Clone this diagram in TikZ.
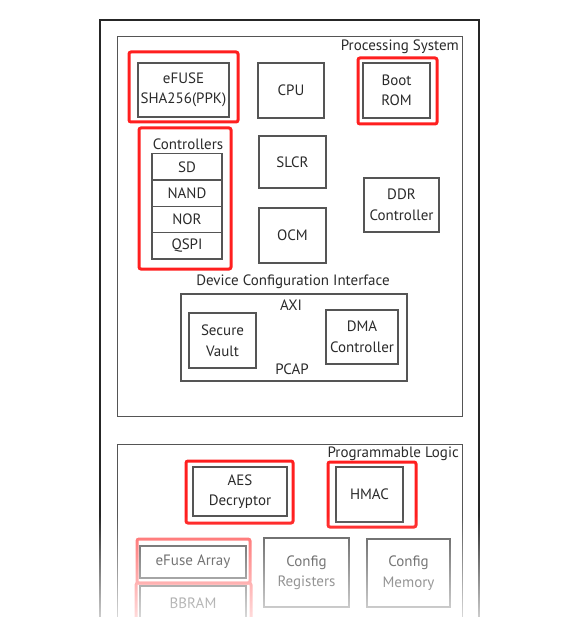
\documentclass[tikz,border=0pt]{standalone}
\usepackage{fontspec}
\setmainfont{PT Sans}
\usetikzlibrary{fadings}

\definecolor{txtgray}{HTML}{2A2A2A}
\definecolor{boxgray}{HTML}{555555}
\definecolor{secred}{HTML}{FF1F1F}

\tikzfading[name=fadebottom, top color=transparent!100, bottom color=transparent!22]

\begin{document}
\begin{tikzpicture}[x=1pt,y=-1pt,
    blk/.style={draw=boxgray,line width=1.3pt,inner sep=0pt,align=center,text=txtgray,font=\fontsize{15}{20.5}\selectfont},
    redbox/.style={draw=secred,line width=3pt,rounded corners=2pt,inner sep=0pt},
    lbl/.style={text=txtgray,inner sep=0pt,font=\fontsize{15}{20.5}\selectfont}]

      \useasboundingbox (0,0) rectangle (574,617);
      \clip (0,0) rectangle (574,617);

      % frames
      \draw[line width=2pt,draw=black!85] (100,20) rectangle (479,660);
      \node[blk,line width=1pt,minimum width=345pt,minimum height=379pt] (ps) at (289.5,226.5) {};
      \node[blk,line width=1pt,minimum width=345pt,minimum height=260pt] (pl) at (289.5,574) {};
      \node[lbl,anchor=east] (pslbl) at (459,47) {Processing System};
      \node[lbl,anchor=east] (pllbl) at (459,454) {Programmable Logic};

      % red highlights
      \begin{scope}[every node/.style={redbox}]
        \node[minimum width=109pt,minimum height=70pt] (efusered) at (183.5,87) {};
        \node[minimum width=79pt,minimum height=66pt]  (bootred)  at (397.5,91) {};
        \node[minimum width=92pt,minimum height=141pt] (ctrlred)  at (185,198.5) {};
        \node[minimum width=107pt,minimum height=62pt] (aesred)   at (239.5,492) {};
        \node[minimum width=88pt,minimum height=65pt]  (hmacred)  at (372,494.5) {};
        \node[draw=secred!70,minimum width=113pt,minimum height=44pt] (efarrred) at (193.5,561) {};
        \node[draw=secred!70,minimum width=115pt,minimum height=50pt] (bbramred) at (193.5,608) {};
      \end{scope}

      % processing system blocks
      \begin{scope}[every node/.style={blk}]
        \node[minimum width=91pt,minimum height=54pt] (efuse) at (183.5,90) {eFUSE\\SHA256(PPK)};
        \node[minimum width=66pt,minimum height=55pt] (cpu)   at (291,90.5) {CPU};
        \node[minimum width=67pt,minimum height=55pt] (boot)  at (396.5,90.5) {Boot\\ROM};
        \node[minimum width=67pt,minimum height=52pt] (slcr)  at (292.5,162) {SLCR};
        \node[minimum width=67pt,minimum height=55pt] (ocm)   at (292.5,235.5) {OCM};
        \node[minimum width=75pt,minimum height=54pt] (ddr)   at (401.5,205) {DDR\\Controller};
        \node[minimum width=226pt,minimum height=87pt] (dci)  at (294,337.5) {};
        \node[minimum width=67pt,minimum height=55pt] (vault) at (222.5,340.5) {Secure\\Vault};
        \node[minimum width=72pt,minimum height=54pt] (dma)   at (362,337) {DMA\\Controller};
        \foreach \name [count=\i from 0] in {SD,NAND,NOR,QSPI}
          \node[minimum width=70pt,minimum height=26.3pt] (c\i) at (187,167+26.3*\i) {\name};
      \end{scope}
      \node[lbl] (ctrllbl) at (188,144) {Controllers};
      \node[lbl] (dcilbl) at (293,282) {Device Configuration Interface};
      \node[lbl] (axi) at (291,305) {AXI};
      \node[lbl] (pcap) at (292,369) {PCAP};

      % programmable logic blocks
      \begin{scope}[every node/.style={blk}]
        \node[minimum width=94pt,minimum height=49pt] (aes)   at (240,491.5) {AES\\Decryptor};
        \node[minimum width=67pt,minimum height=55pt] (hmac)  at (369.5,494.5) {HMAC};
        \node[minimum width=106pt,minimum height=32pt] (efarr) at (193,562) {eFuse Array};
        \node[minimum width=106pt,minimum height=34pt] (bbram) at (193,603) {BBRAM};
        \node[minimum width=85pt,minimum height=69pt] (cfgreg) at (306.5,572.5) {Config\\Registers};
        \node[minimum width=83pt,minimum height=68pt] (cfgmem) at (408.5,573) {Config\\Memory};
      \end{scope}

      % fade out at the bottom
      \fill[white,path fading=fadebottom] (0,515) rectangle (574,618);

    \end{tikzpicture}
\end{document}
